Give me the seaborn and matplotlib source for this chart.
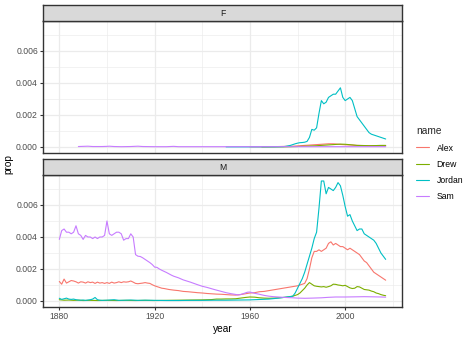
import numpy as np
import pandas as pd
import matplotlib
matplotlib.use("Agg")
import matplotlib.pyplot as plt
import seaborn as sns

# ---------------- data ----------------
names = ["Alex", "Drew", "Jordan", "Sam"]
colors = ["#F8766D", "#7CAE00", "#00BFC4", "#C77CFF"]
facets = ["F", "M"]

# ---- sex = M ----
alex_m_years = list(range(1880, 1929)) + list(range(1930, 1982, 2)) + list(range(1982, 2018))
alex_m_prop = [
    0.00122, 0.00105, 0.00137, 0.00112, 0.00120, 0.00128, 0.00125, 0.00120, 0.00112, 0.00120,
    0.00118, 0.00112, 0.00120, 0.00115, 0.00118, 0.00110, 0.00118, 0.00112, 0.00115, 0.00110,
    0.00115, 0.00110, 0.00118, 0.00112, 0.00115, 0.00120, 0.00115, 0.00120, 0.00118, 0.00120,
    0.00125, 0.00118, 0.00110, 0.00108, 0.00110, 0.00112, 0.00115, 0.00112, 0.00110, 0.00102,
    0.00095, 0.00090, 0.00085, 0.00080, 0.00078, 0.00075, 0.00072, 0.00070, 0.00068,
    0.00065, 0.00060, 0.00058, 0.00055, 0.00052, 0.00050, 0.00047, 0.00045, 0.00043, 0.00042,
    0.00040, 0.00038, 0.00037, 0.00040, 0.00045, 0.00050, 0.00052, 0.00058, 0.00060, 0.00065,
    0.00070, 0.00075, 0.00080, 0.00085, 0.00090, 0.00095,
    0.00105, 0.00110, 0.00140, 0.00200, 0.00270, 0.00310, 0.00310, 0.00320, 0.00310, 0.00320,
    0.00330, 0.00360, 0.00370, 0.00350, 0.00360, 0.00350, 0.00340, 0.00340, 0.00330, 0.00320,
    0.00330, 0.00320, 0.00310, 0.00300, 0.00290, 0.00270, 0.00250, 0.00240, 0.00220, 0.00200,
    0.00180, 0.00170, 0.00160, 0.00150, 0.00140, 0.00130,
]

drew_m_years = [1880, 1882, 1884, 1886, 1888, 1890, 1893, 1896, 1900, 1904, 1908, 1912, 1916,
                1920, 1925, 1930, 1935, 1940, 1944, 1946, 1948, 1950, 1952, 1954, 1956, 1958,
                1960, 1962, 1964, 1966, 1968, 1970, 1972, 1974, 1976, 1978, 1980] + list(range(1981, 2018))
drew_m_prop = [
    0.00008, 0.00005, 0.00006, 0.00004, 0.00005, 0.00003, 0.00004, 0.00003, 0.00004, 0.00003,
    0.00004, 0.00003, 0.00004, 0.00003, 0.00004, 0.00005, 0.00006, 0.00007, 0.00009, 0.00012,
    0.00012, 0.00013, 0.00013, 0.00014, 0.00018, 0.00022, 0.00025, 0.00024, 0.00020, 0.00018,
    0.00017, 0.00018, 0.00020, 0.00022, 0.00025, 0.00030, 0.00040,
    0.00050, 0.00065, 0.00080, 0.00100, 0.00115, 0.00105, 0.00095, 0.00092, 0.00090, 0.00088,
    0.00090, 0.00086, 0.00090, 0.00095, 0.00105, 0.00104, 0.00100, 0.00098, 0.00095, 0.00098,
    0.00090, 0.00082, 0.00078, 0.00080, 0.00090, 0.00088, 0.00080, 0.00072, 0.00070, 0.00068,
    0.00062, 0.00058, 0.00050, 0.00046, 0.00040, 0.00036, 0.00033,
]

jordan_m_years = list(range(1880, 1899)) + [1900, 1903, 1905, 1908, 1910, 1913, 1916, 1920, 1925,
                1930, 1935, 1940, 1945, 1950, 1955, 1960, 1965, 1968, 1970, 1972, 1974, 1976,
                1977] + list(range(1978, 2018))
jordan_m_prop = [
    0.00017, 0.00010, 0.00014, 0.00018, 0.00012, 0.00010, 0.00012, 0.00008, 0.00006, 0.00005,
    0.00006, 0.00004, 0.00006, 0.00008, 0.00012, 0.00022, 0.00008, 0.00005, 0.00004,
    0.00005, 0.00008, 0.00004, 0.00005, 0.00006, 0.00004, 0.00005, 0.00004, 0.00003,
    0.00003, 0.00004, 0.00004, 0.00005, 0.00005, 0.00006, 0.00007, 0.00010, 0.00012, 0.00015,
    0.00018, 0.00022, 0.00026, 0.00028,
    0.00030, 0.00050, 0.00080, 0.00110, 0.00140, 0.00180, 0.00230, 0.00280, 0.00330, 0.00390,
    0.00430, 0.00580, 0.00750, 0.00750, 0.00670, 0.00710, 0.00700, 0.00690, 0.00710, 0.00740,
    0.00720, 0.00660, 0.00590, 0.00530, 0.00540, 0.00500, 0.00470, 0.00440, 0.00450, 0.00450,
    0.00420, 0.00410, 0.00400, 0.00390, 0.00380, 0.00360, 0.00330, 0.00300, 0.00280, 0.00260,
]

sam_m_years = list(range(1880, 1930)) + [1930, 1932, 1935, 1938, 1940, 1942, 1945, 1948, 1950,
              1952, 1954, 1955, 1956, 1957, 1958, 1959, 1960, 1961, 1962, 1964, 1966, 1968, 1970,
              1972, 1975, 1978, 1980, 1983, 1986, 1990, 1993, 1996, 2000, 2004, 2008, 2012, 2015, 2017]
sam_m_prop = [
    0.00385, 0.00440, 0.00450, 0.00430, 0.00430, 0.00420, 0.00430, 0.00470, 0.00420, 0.00410,
    0.00385, 0.00410, 0.00400, 0.00400, 0.00390, 0.00400, 0.00390, 0.00400, 0.00400, 0.00410,
    0.00500, 0.00420, 0.00410, 0.00420, 0.00430, 0.00430, 0.00420, 0.00380, 0.00390, 0.00390,
    0.00420, 0.00400, 0.00290, 0.00280, 0.00278, 0.00270, 0.00260, 0.00250, 0.00240, 0.00228,
    0.00212, 0.00210, 0.00200, 0.00192, 0.00185, 0.00178, 0.00170, 0.00162, 0.00155, 0.00150,
    0.00145, 0.00132, 0.00118, 0.00102, 0.00092, 0.00085, 0.00072, 0.00060, 0.00052,
    0.00046, 0.00041, 0.00038, 0.00040, 0.00045, 0.00050, 0.00055, 0.00056, 0.00052, 0.00048,
    0.00042, 0.00035, 0.00030, 0.00027, 0.00025, 0.00022, 0.00020, 0.00018, 0.00017, 0.00018,
    0.00020, 0.00023, 0.00025, 0.00025, 0.00026, 0.00027, 0.00026, 0.00025, 0.00024,
]

# ---- sex = F ----
alex_f_years = [1960, 1965, 1970, 1975, 1978, 1980, 1983, 1985, 1988, 1990, 1993, 1995, 1998,
                2000, 2003, 2005, 2008, 2010, 2013, 2017]
alex_f_prop = [0.00001, 0.00001, 0.00002, 0.00004, 0.00005, 0.00007, 0.00010, 0.00012, 0.00015,
               0.00017, 0.00020, 0.00020, 0.00016, 0.00014, 0.00012, 0.00010, 0.00009, 0.00008,
               0.00008, 0.00008]

drew_f_years = [1965, 1970, 1975, 1980, 1985, 1988, 1990, 1993, 1995, 1998, 2000, 2003, 2005,
                2008, 2010, 2013, 2015, 2017]
drew_f_prop = [0.00001, 0.00001, 0.00001, 0.00003, 0.00006, 0.00008, 0.00010, 0.00013, 0.00015,
               0.00018, 0.00017, 0.00013, 0.00010, 0.00009, 0.00008, 0.00009, 0.00010, 0.00010]

jordan_f_years = [1950, 1955, 1960, 1965, 1970] + list(range(1974, 2018))
jordan_f_prop = [
    0.00001, 0.00001, 0.00001, 0.00001, 0.00001,
    0.00002, 0.00004, 0.00007, 0.00010, 0.00015, 0.00020, 0.00024, 0.00027, 0.00028, 0.00030,
    0.00035, 0.00060, 0.00110, 0.00105, 0.00120, 0.00210, 0.00290, 0.00270, 0.00280, 0.00310,
    0.00320, 0.00330, 0.00330, 0.00350, 0.00370, 0.00310, 0.00290, 0.00300, 0.00310, 0.00290,
    0.00240, 0.00190, 0.00170, 0.00150, 0.00130, 0.00110, 0.00090, 0.00080, 0.00075, 0.00070,
    0.00065, 0.00060, 0.00055, 0.00050,
]

sam_f_years = [1888, 1890, 1892, 1894, 1896, 1898, 1900, 1901, 1903, 1906, 1910, 1913, 1915,
               1920, 1925, 1928, 1930, 1935, 1940, 1950, 1960, 1970, 1980, 1990, 2000, 2010, 2017]
sam_f_prop = [0.00003, 0.00004, 0.00005, 0.00003, 0.00003, 0.00003, 0.00004, 0.00005, 0.00003,
              0.00002, 0.00003, 0.00005, 0.00003, 0.00002, 0.00002, 0.00004, 0.00002, 0.00002,
              0.00002, 0.00002, 0.00002, 0.00002, 0.00002, 0.00002, 0.00002, 0.00002, 0.00002]

series = {
    ("F", "Alex"): (alex_f_years, alex_f_prop),
    ("F", "Drew"): (drew_f_years, drew_f_prop),
    ("F", "Jordan"): (jordan_f_years, jordan_f_prop),
    ("F", "Sam"): (sam_f_years, sam_f_prop),
    ("M", "Alex"): (alex_m_years, alex_m_prop),
    ("M", "Drew"): (drew_m_years, drew_m_prop),
    ("M", "Jordan"): (jordan_m_years, jordan_m_prop),
    ("M", "Sam"): (sam_m_years, sam_m_prop),
}
rows = []
for (sex, nm), (yrs, vals) in series.items():
    assert len(yrs) == len(vals), (sex, nm, len(yrs), len(vals))
    for y, v in zip(yrs, vals):
        rows.append({"sex": sex, "name": nm, "year": y, "prop": v})
df = pd.DataFrame(rows)

# ---------------- style ----------------
sns.set_theme(style="white")
plt.rcParams['font.family'] = ['Liberation Sans', 'DejaVu Sans']

W, H = 474, 338
fig = plt.figure(figsize=(W / 100, H / 100), dpi=100)

def fx(px):
    return px / W

def fy(py):
    return 1 - py / H

panel_left, panel_right = 43, 402
panels = {"F": (21, 153), "M": (175, 307)}
strip_h = 16

x_lo, x_hi = df.year.min(), df.year.max()
xpad = (x_hi - x_lo) * 0.05
y_lo, y_hi = 0.0, df.prop.max()
ypad = (y_hi - y_lo) * 0.05

tick_size = 6.2
title_size = 7.3
border_col = "#333333"
grid_col = "#EBEBEB"

ax_m = None
for sex in facets:
    top, bot = panels[sex]
    ax = fig.add_axes([fx(panel_left), fy(bot), fx(panel_right - panel_left), (bot - top) / H])
    sub = df[df.sex == sex]
    sns.lineplot(data=sub, x="year", y="prop", hue="name", hue_order=names,
                 palette=colors, ax=ax, linewidth=0.8, estimator=None,
                 legend=(sex == "M"), zorder=3)
    ax.set_xlim(x_lo - xpad, x_hi + xpad)
    ax.set_ylim(y_lo - ypad, y_hi + ypad)
    ax.set_xticks([1880, 1920, 1960, 2000])
    ax.set_xticks([1900, 1940, 1980, 2020], minor=True)
    ax.set_yticks([0, 0.002, 0.004, 0.006])
    ax.set_yticks([0.001, 0.003, 0.005, 0.007], minor=True)
    ax.set_yticklabels(["0.000", "0.002", "0.004", "0.006"])
    ax.grid(which="major", color=grid_col, linewidth=0.9, zorder=0)
    ax.grid(which="minor", color=grid_col, linewidth=0.45, zorder=0)
    ax.set_axisbelow(True)
    for sp in ax.spines.values():
        sp.set_color(border_col)
        sp.set_linewidth(1.0)
    ax.tick_params(axis="both", which="major", length=2.0, width=0.8, color=border_col,
                   labelsize=tick_size, labelcolor="#4D4D4D", pad=1.6,
                   bottom=True, left=True)
    ax.tick_params(axis="both", which="minor", length=0)
    ax.set_xlabel("")
    ax.set_ylabel("")
    if sex == "F":
        ax.tick_params(axis="x", which="major", bottom=False, labelbottom=False)
    else:
        ax_m = ax
    # strip
    sax = fig.add_axes([fx(panel_left), fy(top), fx(panel_right - panel_left), strip_h / H])
    sax.set_facecolor("#D9D9D9")
    sax.set_xticks([])
    sax.set_yticks([])
    for sp in sax.spines.values():
        sp.set_color(border_col)
        sp.set_linewidth(1.0)
    sax.text(0.5, 0.5, sex, ha="center", va="center", fontsize=tick_size, color="#1A1A1A",
             transform=sax.transAxes)

# axis titles
fig.text(fx((panel_left + panel_right) / 2), fy(329), "year", ha="center", va="center",
         fontsize=title_size, color="black")
fig.text(fx(8), fy(164), "prop", ha="center", va="center", rotation=90,
         fontsize=title_size, color="black")

# legend
handles, labels = ax_m.get_legend_handles_labels()
ax_m.get_legend().remove()
leg = fig.legend(handles, labels, title="name", loc="upper left",
                 bbox_to_anchor=(fx(413), fy(123)), frameon=False,
                 fontsize=tick_size, title_fontsize=title_size,
                 handlelength=1.5, handletextpad=0.85, labelspacing=0.82,
                 alignment="left", borderaxespad=0)
for h in leg.get_lines():
    h.set_linewidth(0.8)
for t in leg.get_texts():
    t.set_color("black")

fig.savefig("out.png", dpi=100)
